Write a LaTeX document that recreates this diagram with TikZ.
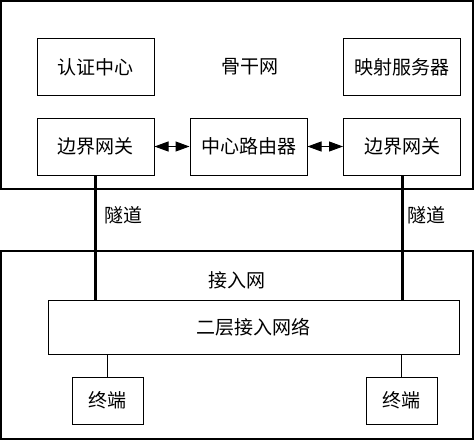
\documentclass[tikz,border=0pt]{standalone}
\usepackage{fontspec}
\newfontfamily\cjk{Noto Sans CJK SC}
\usetikzlibrary{arrows.meta}
\begin{document}
\begin{tikzpicture}[x=1pt,y=-1pt,
  every node/.style={font=\cjk\fontsize{19}{21}\selectfont},
  box/.style={draw,line width=1pt,minimum width=#1,minimum height=57pt,inner sep=0pt},
  box/.default=117pt,
  region/.style={draw,line width=1.2pt,inner sep=0pt},
  tunnel/.style={line width=3pt},
  thin/.style={line width=1pt},
  dbl/.style={line width=1pt,{Triangle[length=14pt,width=10pt]}-{Triangle[length=14pt,width=10pt]}}]
\useasboundingbox (0,0) rectangle (474,440);
\node[region,minimum width=472pt,minimum height=188pt] (bb) at (237,95) {};
\node[region,minimum width=472pt,minimum height=188pt] (an) at (237,345) {};
\node[box] (auth) at (95.5,67) {认证中心};
\node (bbl) at (250,67) {骨干网};
\node[box] (map) at (402,67) {映射服务器};
\node[box] (gwl) at (95.5,146.5) {边界网关};
\node[box] (rt) at (248.5,146.5) {中心路由器};
\node[box] (gwr) at (402,146.5) {边界网关};
\draw[dbl] (gwl.east) -- (rt.west);
\draw[dbl] (rt.east) -- (gwr.west);
\node (anl) at (237,280) {接入网};
\node[draw,line width=1pt,minimum width=411pt,minimum height=54pt,inner sep=0pt] (l2) at (253.5,327) {二层接入网络};
\draw[tunnel] (gwl.south) -- (gwl.south |- l2.north);
\draw[tunnel] (gwr.south) -- (gwr.south |- l2.north);
\node[anchor=west] (tl) at (101,215) {隧道};
\node[anchor=west] (tr) at (404,215) {隧道};
\node[box=71pt,minimum height=47pt] (t1) at (107.5,400.5) {终端};
\node[box=71pt,minimum height=47pt] (t2) at (401.5,400.5) {终端};
\draw[thin] (t1.north |- l2.south) -- (t1.north);
\draw[thin] (t2.north |- l2.south) -- (t2.north);
\end{tikzpicture}
\end{document}
